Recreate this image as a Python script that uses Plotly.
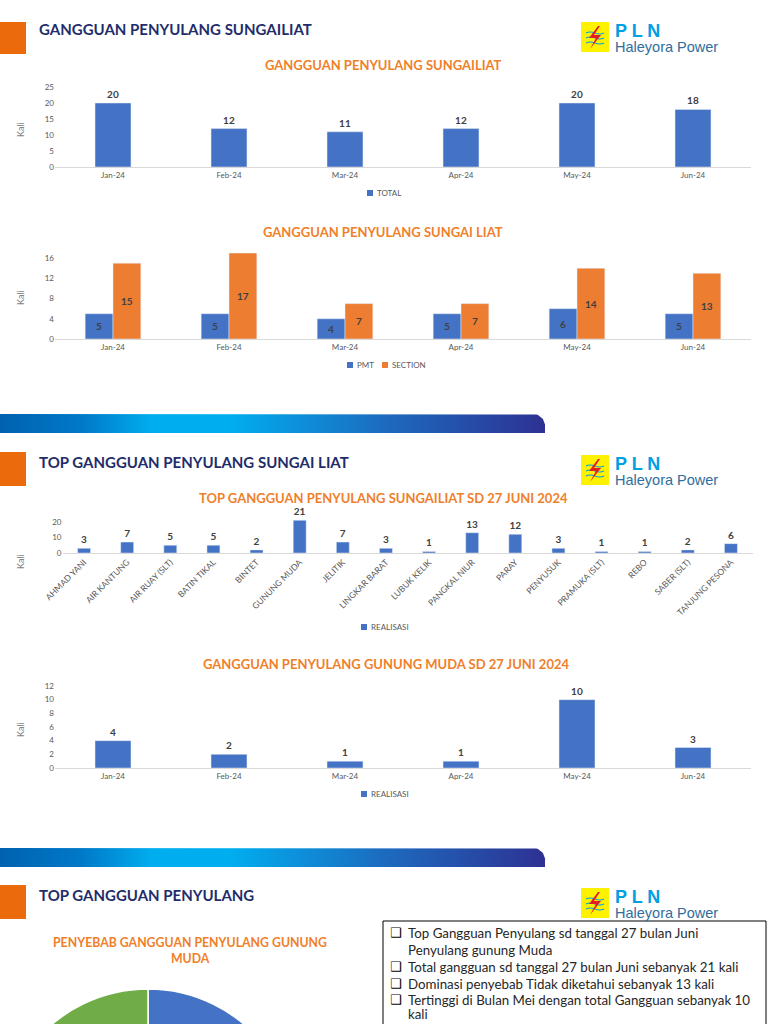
import numpy as np
import plotly.graph_objects as go

W, H = 768, 1300

# ---------------- data ----------------
months = ["Jan-24", "Feb-24", "Mar-24", "Apr-24", "May-24", "Jun-24"]
total_sungailiat = [20, 12, 11, 12, 20, 18]
pmt = [5, 5, 4, 5, 6, 5]
section = [15, 17, 7, 7, 14, 13]
feeders = ["AHMAD YANI", "AIR KANTUNG", "AIR RUAY (SLT)", "BATIN TIKAL", "BINTET",
           "GUNUNG MUDA", "JELITIK", "LINGKAR BARAT", "LUBUK KELIK", "PANGKAL NIUR",
           "PARAY", "PENYUSUK", "PRAMUKA (SLT)", "REBO", "SABER (SLT)", "TANJUNG PESONA"]
feeder_realisasi = [3, 7, 5, 5, 2, 21, 7, 3, 1, 13, 12, 3, 1, 1, 2, 6]
gunung_muda = [4, 2, 1, 1, 10, 3]
cause_labels = ["TIDAK DIKETAHUI", "LAYANG-LAYANG", "HEWAN", "PETIR", "POHON", "PERALATAN"]
cause_values = [13, 1, 1, 1, 2, 3]

BLUE = "#4472C4"
ORANGE = "#ED7D31"
NAVY = "#1F2D6B"
TITLE_OR = "#F07F2A"
GRAY = "#7F7F7F"
LBL = "#404040"
FONT = "Lato"


def px(x):
    return x / W


def py(y):
    return 1 - y / H


fig = go.Figure()

lblfont = dict(size=10, color=LBL, family=FONT)

# ---------------- chart 1 ----------------
fig.add_trace(go.Bar(x=months, y=total_sungailiat, name="TOTAL", marker_color=BLUE,
                     width=0.31, text=total_sungailiat, texttemplate="<b>%{text}</b>",
                     textposition="outside", cliponaxis=False, textfont=lblfont,
                     xaxis="x", yaxis="y"))

# ---------------- chart 2 ----------------
fig.add_trace(go.Bar(x=months, y=pmt, name="PMT", marker_color=BLUE,
                     width=0.24, offset=-0.24, text=pmt, texttemplate="<b>%{text}</b>",
                     textposition="inside", insidetextanchor="middle", textangle=0,
                     textfont=lblfont, xaxis="x2", yaxis="y2"))
fig.add_trace(go.Bar(x=months, y=section, name="SECTION", marker_color=ORANGE,
                     width=0.24, offset=0.0, text=section, texttemplate="<b>%{text}</b>",
                     textposition="inside", insidetextanchor="middle", textangle=0,
                     textfont=lblfont, xaxis="x2", yaxis="y2"))

# ---------------- chart 3 ----------------
fig.add_trace(go.Bar(x=feeders, y=feeder_realisasi, name="REALISASI", marker_color=BLUE,
                     width=0.3, text=feeder_realisasi, texttemplate="<b>%{text}</b>",
                     textposition="outside", cliponaxis=False, textfont=lblfont,
                     xaxis="x3", yaxis="y3"))

# ---------------- chart 4 ----------------
fig.add_trace(go.Bar(x=months, y=gunung_muda, name="REALISASI", marker_color=BLUE,
                     width=0.31, text=gunung_muda, texttemplate="<b>%{text}</b>",
                     textposition="outside", cliponaxis=False, textfont=lblfont,
                     xaxis="x4", yaxis="y4"))

# ---------------- pie ----------------
fig.add_trace(go.Pie(labels=cause_labels, values=cause_values, sort=False,
                     direction="clockwise", rotation=0, textinfo="none",
                     marker=dict(colors=[BLUE, ORANGE, "#A5A5A5", "#FFC000", "#5B9BD5", "#70AD47"],
                                 line=dict(color="white", width=1.5)),
                     domain=dict(x=[px(0), px(296)], y=[py(1285), py(989)]),
                     hoverinfo="label+value"))

# ---------------- decorative gradient bands ----------------
def band_path(y0, y1, x1, r):
    t = np.linspace(-np.pi / 2, 0, 12)
    ax = (x1 - r) + r * np.cos(t)
    ay = (y0 + r) + r * np.sin(t)
    xs = [0] + list(ax) + [x1, 0, 0]
    ys = [y0] + list(ay) + [y1, y1, y0]
    return xs, ys


grad = [[0, "#0062B0"], [0.15, "#0079C8"], [0.28, "#00AEEF"], [0.42, "#00AEEF"],
        [0.7, "#1C6CC0"], [1, "#2E3192"]]
for (by0, by1) in [(414, 433), (848, 867)]:
    bx, byy = band_path(by0, by1, 545, 12)
    fig.add_trace(go.Scatter(x=bx, y=byy, mode="lines", fill="toself",
                             fillgradient=dict(type="horizontal", colorscale=grad),
                             line=dict(width=0), hoverinfo="skip",
                             xaxis="x5", yaxis="y5"))

# ---------------- axes ----------------
tickf = dict(size=8, color="#595959", family=FONT)
common_x = dict(showline=True, linecolor="#D9D9D9", linewidth=1, ticks="", showgrid=False,
                zeroline=False, tickfont=tickf, fixedrange=True, automargin=False)
common_y = dict(showline=False, showgrid=False, zeroline=False, ticks="", tickfont=tickf,
                fixedrange=True, automargin=False)

fig.update_layout(
    xaxis=dict(domain=[px(55), px(751)], anchor="y", range=[-0.5, 5.5], **common_x),
    yaxis=dict(domain=[py(167), py(87)], anchor="x", range=[0, 25], dtick=5, **common_y),
    xaxis2=dict(domain=[px(55), px(751)], anchor="y2", range=[-0.5, 5.5], **common_x),
    yaxis2=dict(domain=[py(339), py(248)], anchor="x2", range=[0, 18], tickvals=[0, 4, 8, 12, 16], **common_y),
    xaxis3=dict(domain=[px(62.5), px(752.5)], anchor="y3", range=[-0.5, 15.5], tickangle=-45,
                **{**common_x, "tickfont": dict(size=8.5, color="#595959", family=FONT)}),
    yaxis3=dict(domain=[py(553), py(514)], anchor="x3", range=[0, 25], tickvals=[0, 10, 20], **common_y),
    xaxis4=dict(domain=[px(55), px(751)], anchor="y4", range=[-0.5, 5.5], **common_x),
    yaxis4=dict(domain=[py(768), py(686)], anchor="x4", range=[0, 12], dtick=2, **common_y),
    xaxis5=dict(domain=[0, 1], anchor="y5", range=[0, W], visible=False, fixedrange=True, automargin=False),
    yaxis5=dict(domain=[0, 1], anchor="x5", range=[H, 0], visible=False, fixedrange=True, automargin=False),
)

# ---------------- shapes & annotations (pixel coords on x5/y5) ----------------
shapes = []
ann = []


def text(x, y, s, size, color, bold=False, xanchor="left", family=FONT, angle=0):
    ann.append(dict(x=x, y=y, xref="x5", yref="y5", text=(f"<b>{s}</b>" if bold else s),
                    showarrow=False, xanchor=xanchor, yanchor="middle", textangle=angle,
                    font=dict(size=size, color=color, family=family)))


def legend_item(x, y, color, label):
    shapes.append(dict(type="rect", xref="x5", yref="y5", x0=x, x1=x + 6, y0=y - 3, y1=y + 3,
                       fillcolor=color, line=dict(width=0), layer="above"))
    text(x + 8, y, label, 8, "#595959")


def logo(y0):
    shapes.append(dict(type="rect", xref="x5", yref="y5", x0=581, x1=609, y0=y0, y1=y0 + 30,
                       fillcolor="#FFF200", line=dict(width=0), layer="above"))
    for dy in (11, 16, 21):
        shapes.append(dict(type="path", xref="x5", yref="y5",
                           path=f"M 586 {y0+dy} Q 590 {y0+dy-2} 595 {y0+dy} T 604 {y0+dy}",
                           line=dict(color="#00A0E3", width=1.2), layer="above"))
    shapes.append(dict(type="path", xref="x5", yref="y5",
                       path=(f"M 598 {y0+4} L 589 {y0+16} L 596 {y0+16} L 590 {y0+27} "
                             f"L 601 {y0+13} L 594 {y0+13} L 600 {y0+4} Z"),
                       fillcolor="#E31E24", line=dict(width=0), layer="above"))
    text(613, y0 + 9, "P L N", 18, "#00A0E3", bold=True, family="Liberation Sans")
    text(613, y0 + 25, "Haleyora Power", 14.5, "#2F6E9E", family="Liberation Sans")


for (sy0, sy1, hy, header, ly) in [(22, 54, 29, "GANGGUAN PENYULANG SUNGAILIAT", 22),
                                    (452, 486, 462, "TOP GANGGUAN PENYULANG SUNGAI LIAT", 455),
                                    (885, 919, 895, "TOP GANGGUAN PENYULANG", 888)]:
    shapes.append(dict(type="rect", xref="x5", yref="y5", x0=0, x1=26, y0=sy0, y1=sy1,
                       fillcolor="#EB6A0C", line=dict(width=0), layer="above"))
    text(37, hy, header, 15, NAVY, bold=True)
    logo(ly)

# chart titles
text(383, 65, "GANGGUAN PENYULANG SUNGAILIAT", 13, TITLE_OR, bold=True, xanchor="center")
text(383, 232, "GANGGUAN PENYULANG SUNGAI LIAT", 13, TITLE_OR, bold=True, xanchor="center")
text(383, 498, "TOP GANGGUAN PENYULANG SUNGAILIAT SD 27 JUNI 2024", 13, TITLE_OR, bold=True, xanchor="center")
text(386, 664, "GANGGUAN PENYULANG GUNUNG MUDA SD 27 JUNI 2024", 13, TITLE_OR, bold=True, xanchor="center")
text(190, 942, "PENYEBAB GANGGUAN PENYULANG GUNUNG", 12.3, TITLE_OR, bold=True, xanchor="center")
text(190, 958, "MUDA", 12.3, TITLE_OR, bold=True, xanchor="center")

# legends
legend_item(367, 193, BLUE, "TOTAL")
legend_item(347, 365, BLUE, "PMT")
legend_item(382, 365, ORANGE, "SECTION")
legend_item(361, 627, BLUE, "REALISASI")
legend_item(361, 794, BLUE, "REALISASI")

# y-axis titles
for yy in (130, 298, 562, 730):
    text(20, yy, "Kali", 9, GRAY, xanchor="center", angle=-90)

# text box
shapes.append(dict(type="rect", xref="x5", yref="y5", x0=383, x1=766, y0=921, y1=1060,
                   line=dict(color="#000000", width=1), fillcolor="rgba(0,0,0,0)", layer="above"))
box_lines = [
    (933, True, "Top Gangguan Penyulang sd tanggal 27 bulan Juni"),
    (950, False, "Penyulang gunung Muda"),
    (967, True, "Total gangguan sd tanggal 27 bulan Juni sebanyak 21 kali"),
    (984, True, "Dominasi penyebab Tidak diketahui sebanyak 13 kali"),
    (1000, True, "Tertinggi di Bulan Mei dengan total Gangguan sebanyak 10"),
    (1014, False, "kali"),
]
for (yy, bullet, s) in box_lines:
    if bullet:
        text(388, yy - 1, "❑", 13, "#000000", family="DejaVu Sans")
    text(406, yy, s, 13.3, "#262626")

fig.update_layout(shapes=shapes, annotations=ann)

fig.update_layout(width=W, height=H, margin=dict(l=0, r=0, t=0, b=0, autoexpand=False),
                  paper_bgcolor="white", plot_bgcolor="rgba(0,0,0,0)", showlegend=False,
                  barmode="overlay", font=dict(family=FONT), hovermode="closest")

fig.write_html("out.html")
